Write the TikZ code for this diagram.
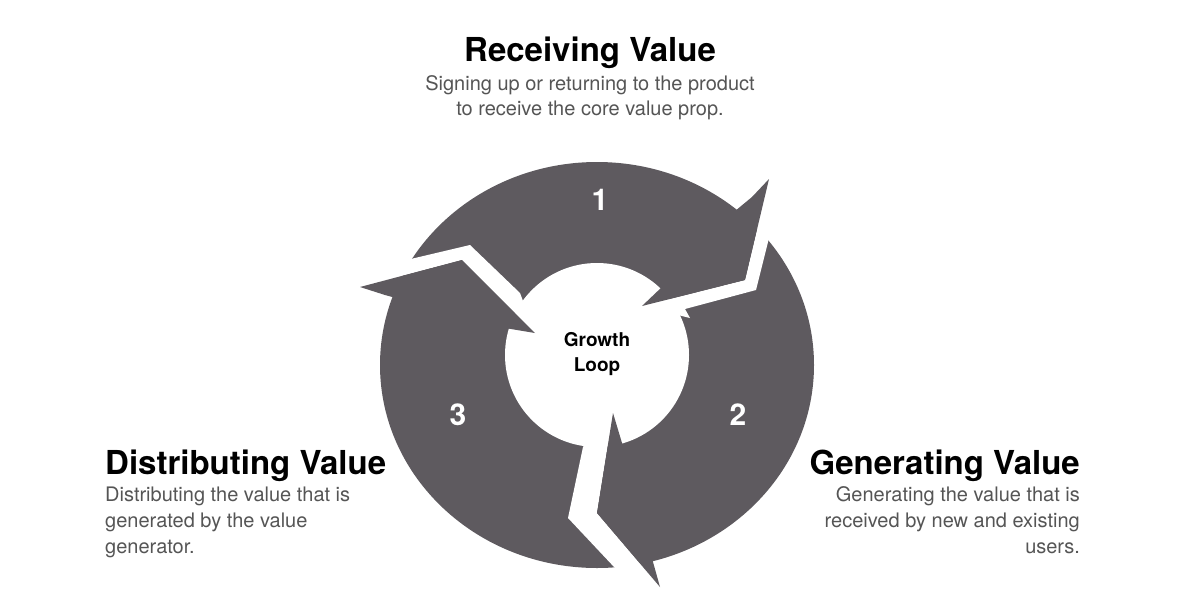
\documentclass[tikz,border=0pt]{standalone}
\usepackage{fontspec}
\setmainfont{TeX Gyre Heros}
\begin{document}
\begin{tikzpicture}[x=1pt,y=-1pt,
  ring/.style={fill=ringgray},
  gap/.style={fill=white},
  ttl/.style={font=\fontsize{33}{38}\selectfont\bfseries, inner sep=0pt},
  body/.style={font=\fontsize{20}{26}\selectfont, text=txtgray, inner sep=0pt, align=#1},
  num/.style={font=\fontsize{30}{34}\selectfont\bfseries, text=white},
]
\definecolor{ringgray}{HTML}{5E5A5F}
\definecolor{txtgray}{HTML}{555555}
\useasboundingbox[fill=white] (0,0) rectangle (1200,606);
% ring
\fill[ring] (597,365) ellipse [x radius=217, y radius=203];
\fill[white] (597,355) circle [radius=92];
% gaps
\fill[gap] (769,179) -- (745,280) -- (642,306) -- (690,318) -- (685,309) -- (756,290) -- (773,222) -- (800,170) -- cycle;
\fill[gap] (613,413) -- (597,513) -- (660,587) -- (640,600) -- (615,568) -- (568,518) -- (583,447) -- cycle;
\fill[gap] (360,287) -- (462,260) -- (535,333) -- (520,293) -- (470,245) -- (398,262) -- (370,270) -- cycle;
% arrow heads
\fill[ring] (752,197) -- (769,179) -- (745,280) -- (642,306) -- (663,286) -- (700,240) -- cycle;
\fill[ring] (622,443) -- (613,413) -- (597,513) -- (660,587) -- (653,562) -- (640,500) -- cycle;
\fill[ring] (385,295) -- (360,287) -- (462,260) -- (535,333) -- (505,328) -- (440,310) -- cycle;
% labels
\node[num] (n1) at (600,200) {1};
\node[num] (n2) at (738,415) {2};
\node[num] (n3) at (458,415) {3};
\node[font=\fontsize{19}{25}\selectfont\bfseries, align=center] (gl) at (597,354) {Growth\\Loop};
\node[ttl, anchor=base] (t1) at (590,61) {Receiving Value};
\node[body=center, anchor=base] (b1) at (590,90) {Signing up or returning to the product};
\node[body=center, anchor=base] (b1b) at (590,115) {to receive the core value prop.};
\node[ttl, anchor=base west] (t3) at (105,474) {Distributing Value};
\node[body=left, anchor=base west] (b3) at (105,501) {Distributing the value that is};
\node[body=left, anchor=base west] (b3b) at (105,527) {generated by the value};
\node[body=left, anchor=base west] (b3c) at (105,553) {generator.};
\node[ttl, anchor=base east] (t2) at (1080,474) {Generating Value};
\node[body=right, anchor=base east] (b2) at (1080,501) {Generating the value that is};
\node[body=right, anchor=base east] (b2b) at (1080,527) {received by new and existing};
\node[body=right, anchor=base east] (b2c) at (1080,553) {users.};
\end{tikzpicture}
\end{document}
